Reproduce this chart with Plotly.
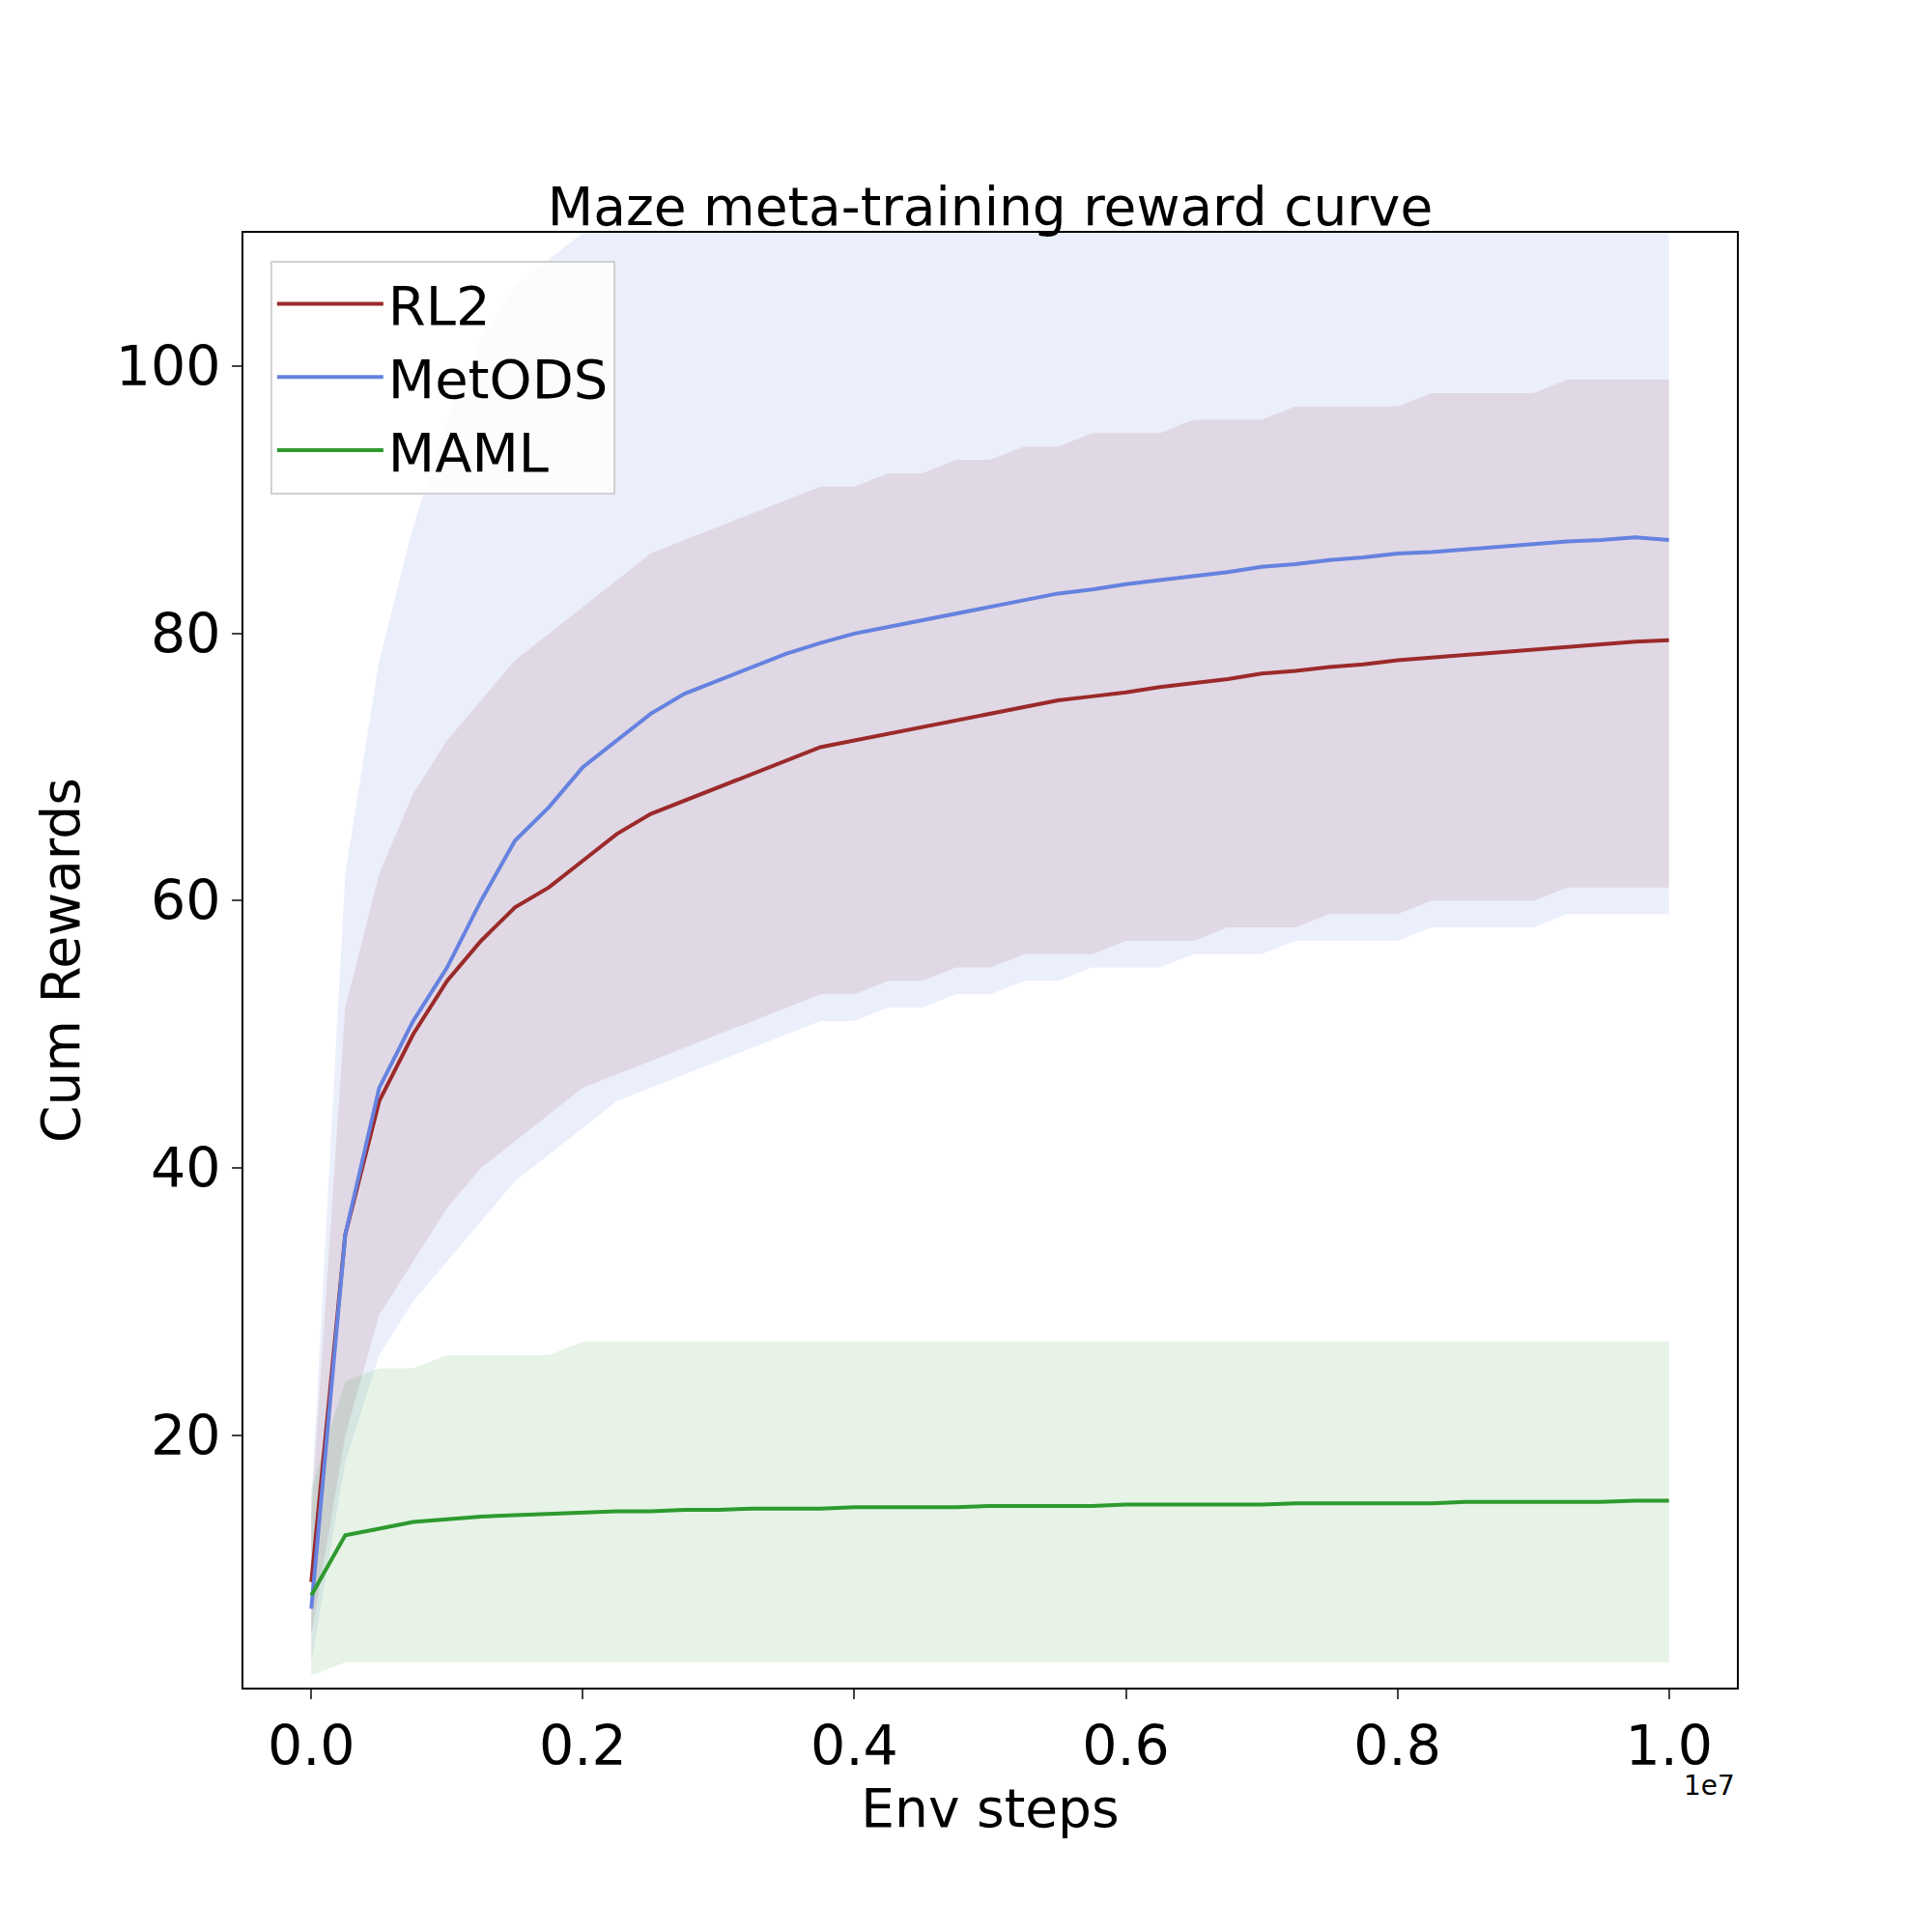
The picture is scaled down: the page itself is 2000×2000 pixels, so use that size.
import plotly.graph_objects as go

steps = [i*0.025 for i in range(41)]  # units of 1e7
rl2_mean = [9,35,45,50,54,57,59.5,61,63,65,66.5,67.5,68.5,69.5,70.5,71.5,72,72.5,73,73.5,74,74.5,75,75.3,75.6,76,76.3,76.6,77,77.2,77.5,77.7,78,78.2,78.4,78.6,78.8,79,79.2,79.4,79.5]
rl2_upper = [14,52,62,68,72,75,78,80,82,84,86,87,88,89,90,91,91,92,92,93,93,94,94,95,95,95,96,96,96,97,97,97,97,98,98,98,98,99,99,99,99]
rl2_lower = [5,20,29,33,37,40,42,44,46,47,48,49,50,51,52,53,53,54,54,55,55,56,56,56,57,57,57,58,58,58,59,59,59,60,60,60,60,61,61,61,61]
met_mean = [7,35,46,51,55,60,64.5,67,70,72,74,75.5,76.5,77.5,78.5,79.3,80,80.5,81,81.5,82,82.5,83,83.3,83.7,84,84.3,84.6,85,85.2,85.5,85.7,86,86.1,86.3,86.5,86.7,86.9,87,87.2,87]
met_upper = [15,62,78,88,96,102,106,108,110,110,110,110,110,110,110,110,110,110,110,110,110,110,110,110,110,110,110,110,110,110,110,110,110,110,110,110,110,110,110,110,110]
met_lower = [3,18,26,30,33,36,39,41,43,45,46,47,48,49,50,51,51,52,52,53,53,54,54,55,55,55,56,56,56,57,57,57,57,58,58,58,58,59,59,59,59]
maml_mean = [8,12.5,13,13.5,13.7,13.9,14,14.1,14.2,14.3,14.3,14.4,14.4,14.5,14.5,14.5,14.6,14.6,14.6,14.6,14.7,14.7,14.7,14.7,14.8,14.8,14.8,14.8,14.8,14.9,14.9,14.9,14.9,14.9,15,15,15,15,15,15.1,15.1]
maml_upper = [16,24,25,25,26,26,26,26,27,27,27,27,27,27,27,27,27,27,27,27,27,27,27,27,27,27,27,27,27,27,27,27,27,27,27,27,27,27,27,27,27]
maml_lower = [2,3,3,3,3,3,3,3,3,3,3,3,3,3,3,3,3,3,3,3,3,3,3,3,3,3,3,3,3,3,3,3,3,3,3,3,3,3,3,3,3]

series = [
    ("RL2", rl2_mean, rl2_upper, rl2_lower, "#9b2a2a", "rgba(155,42,42,0.12)"),
    ("MetODS", met_mean, met_upper, met_lower, "#6582e0", "rgba(101,130,224,0.13)"),
    ("MAML", maml_mean, maml_upper, maml_lower, "#2e9a2e", "rgba(46,154,46,0.12)"),
]

fig = go.Figure()
for name, m, u, l, c, fc in series:
    fig.add_trace(go.Scatter(x=steps, y=u, mode="lines", line=dict(width=0), showlegend=False, hoverinfo="skip"))
    fig.add_trace(go.Scatter(x=steps, y=l, mode="lines", line=dict(width=0), fill="tonexty", fillcolor=fc, showlegend=False, hoverinfo="skip"))
for name, m, u, l, c, fc in series:
    fig.add_trace(go.Scatter(x=steps, y=m, mode="lines", name=name, line=dict(color=c, width=4)))

fig.update_layout(
    width=2000, height=2000, paper_bgcolor="white", plot_bgcolor="white",
    font=dict(family="DejaVu Sans", color="black"),
    margin=dict(l=244, r=210, t=233, b=261),
    title=dict(text="Maze meta-training reward curve", x=0.5, xref="paper", xanchor="center",
               y=1.0, yref="paper", yanchor="bottom", pad=dict(b=8), font=dict(size=55)),
    legend=dict(x=0.018, y=0.981, xanchor="left", yanchor="top", font=dict(size=56),
                traceorder="normal", itemwidth=110,
                bordercolor="#d0d0d0", borderwidth=2, bgcolor="rgba(255,255,255,0.8)"),
    showlegend=True,
)
fig.update_xaxes(range=[-0.05, 1.05], tickvals=[0,0.2,0.4,0.6,0.8,1.0], ticktext=["0.0","0.2","0.4","0.6","0.8","1.0"],
                 tickfont=dict(size=57), ticks="outside", ticklen=10, tickwidth=2, showgrid=False, zeroline=False,
                 showline=True, linecolor="black", linewidth=2, mirror=True,
                 title=dict(text="Env steps", font=dict(size=55), standoff=8))
fig.update_yaxes(range=[1.1, 110], tickvals=[20,40,60,80,100], tickfont=dict(size=57), ticks="outside", ticklen=10, tickwidth=2,
                 showgrid=False, zeroline=False, showline=True, linecolor="black", linewidth=2, mirror=True,
                 title=dict(text="Cum Rewards", font=dict(size=55), standoff=20))
fig.add_annotation(text="1e7", xref="paper", yref="paper", x=1.0, y=-0.055, xanchor="right", yanchor="top", showarrow=False, font=dict(size=28))
fig.write_html("out.html")
